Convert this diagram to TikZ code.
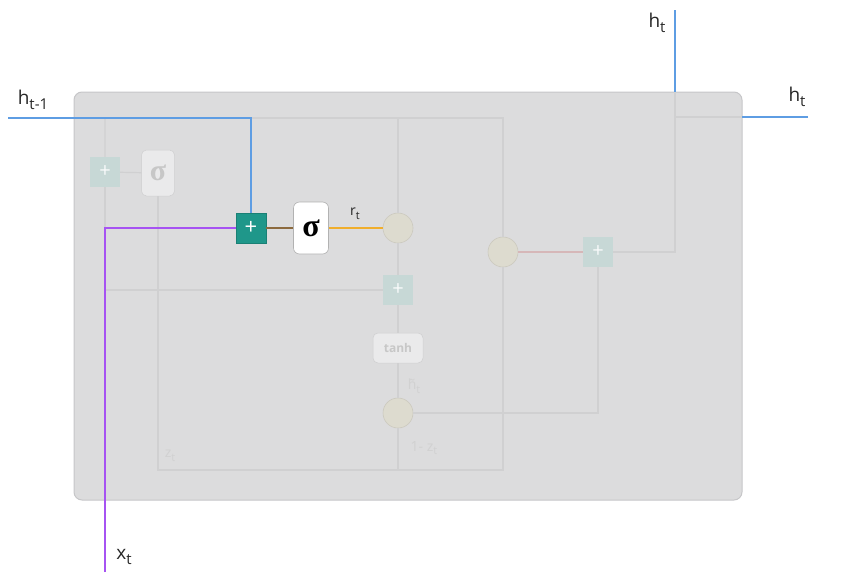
\documentclass[tikz,border=0pt]{standalone}
\usepackage{fontspec}
\setmainfont{Open Sans}
\newfontfamily\grk{Liberation Serif}
\definecolor{cellbg}{HTML}{DCDCDD}
\definecolor{celledge}{HTML}{C6C6C8}
\definecolor{fwirec}{HTML}{D0D0D1}
\definecolor{fplusc}{HTML}{C7D8D6}
\definecolor{fcircc}{HTML}{DDDBCF}
\definecolor{hblue}{HTML}{5E9DE3}
\definecolor{xpurple}{HTML}{A653F2}
\definecolor{teal}{HTML}{1F978A}
\definecolor{brownw}{HTML}{8C6A3E}
\definecolor{orangew}{HTML}{F0AE2C}
\newcommand{\idx}[3]{#1\raisebox{-0.5ex}{\fontsize{#3}{#3}\selectfont #2}}
\tikzset{
  fwire/.style={draw=fwirec, line width=1.2pt},
  fplus/.style={fill=fplusc, minimum size=30pt, inner sep=0pt, text=white!90!fplusc, font=\fontsize{20}{20}\selectfont},
  fcirc/.style={circle, fill=fcircc, draw=fcircc!92!black, line width=0.6pt, minimum size=30pt, inner sep=0pt},
  fgate/.style={rounded corners=5pt, fill=cellbg!60!white, draw=cellbg!94!black, line width=0.5pt, text=black!22},
  flabel/.style={text=black!18, font=\fontsize{14}{14}\selectfont},
  label/.style={text=black!85, font=\fontsize{19}{22}\selectfont, inner sep=0pt}
}
\begin{document}
\begin{tikzpicture}[x=1pt,y=-1pt]
\useasboundingbox (0,0) rectangle (842,581);
% the whole cell
\node[rounded corners=8pt, fill=cellbg, draw=celledge, line width=1pt,
      minimum width=668pt, minimum height=408pt, inner sep=0pt] (cell) at (408,296) {};

% faded part of the cell
\node[fplus] (zplus) at (105,172) {+};
\node[fgate, minimum width=33pt, minimum height=46pt] (zsig) at (158,173) {\grk\bfseries\fontsize{30}{30}\selectfont σ};
\node[fcirc] (rmul) at (398,228) {};
\node[fplus] (cplus) at (398,290) {+};
\node[fgate, minimum width=50pt, minimum height=30pt, font=\bfseries\fontsize{12}{12}\selectfont] (tanh) at (398,348) {tanh};
\node[fcirc] (hmul) at (398,413) {};
\node[fcirc] (omul) at (503,252) {};
\node[fplus] (oplus) at (598,252) {+};

\coordinate (tl) at (105,118);
\coordinate (tr) at (503,118);
\coordinate (bl) at (158,470);
\coordinate (br) at (503,470);
\coordinate (otop) at (675,92);
\coordinate (oright) at (742,117);

\draw[fwire] (tl) -- (tr) -- (omul) -- (br) -- (bl) -- (zsig);
\draw[fwire] (tl) -- (zplus) -- (zsig);
\draw[fwire] (zplus) -- (zplus |- cplus) -- (cplus);
\draw[fwire] (rmul |- tl) -- (rmul) -- (cplus) -- (tanh) -- (hmul) -- (hmul |- br);
\draw[fwire, draw=fwirec!88!red] (omul) -- (oplus);
\draw[fwire] (oplus) |- (hmul);
\draw[fwire] (oplus) -| (otop);
\draw[fwire] (otop |- oright) -- (oright);

\node[flabel] (zlab) at (170,456) {\idx{z}{t}{11}};
\node[flabel] (hlab) at (414,386) {\idx{\~{h}}{t}{11}};
\node[flabel] (olab) at (424,448) {\idx{1- z}{t}{11}};

% reset gate
\coordinate (hin) at (8,118);
\coordinate (xin) at (105,572);
\coordinate (htop) at (675,10);
\coordinate (hright) at (808,117);
\node[fill=teal, draw=teal!85!black, line width=0.5pt, minimum size=30pt, inner sep=0pt,
      text=white, font=\fontsize{22}{22}\selectfont] (add) at (251,228) {+};
\node[rounded corners=6pt, fill=white, draw=black!30, line width=0.6pt,
      minimum width=35pt, minimum height=52pt, inner sep=0pt] (sig) at (311,228)
      {\grk\bfseries\fontsize{32}{32}\selectfont σ};

\draw[hblue, line width=1.8pt] (hin) -| (add.north);
\draw[xpurple, line width=2.2pt] (xin) |- (add.west);
\draw[brownw, line width=1.8pt] (add) -- (sig);
\draw[orangew, line width=1.8pt] (sig) -- (rmul);
\draw[hblue, line width=1.8pt] (htop) -- (otop);
\draw[hblue, line width=1.8pt] (hright) -- (oright);

\node[label] (hprev) at (33,100) {\idx{h}{t-1}{15}};
\node[label] (hout) at (657,23) {\idx{h}{t}{15}};
\node[label] (hnext) at (797,97) {\idx{h}{t}{15}};
\node[label] (xlab) at (124,557) {\idx{x}{t}{15}};
\node[label, font=\fontsize{14}{14}\selectfont] (rlab) at (355,214) {\idx{r}{t}{11}};
\end{tikzpicture}
\end{document}
